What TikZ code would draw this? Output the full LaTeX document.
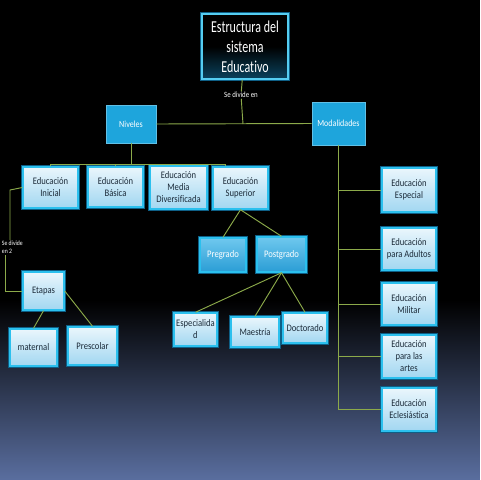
\documentclass[tikz,border=0pt]{standalone}
\usepackage{fontspec}
\setmainfont{Carlito}[FakeStretch=0.86, Ligatures=NoCommon]
\newfontfamily\titlefont{Carlito}[FakeStretch=0.72, Ligatures=NoCommon]
\usetikzlibrary{positioning}

\definecolor{linkgreen}{HTML}{8CAA4A}
\definecolor{boxtop}{HTML}{EAF6FC}
\definecolor{boxbot}{HTML}{A2D7F1}
\definecolor{boxrim}{HTML}{2BC0EE}
\definecolor{glowblue}{HTML}{0E5F86}
\definecolor{headcyan}{HTML}{1EA5DC}
\definecolor{midtop}{HTML}{6FC8EE}
\definecolor{midbot}{HTML}{2A9DD5}
\definecolor{bgblue}{HTML}{5A6E9F}
\definecolor{boxtext}{HTML}{1B2A38}

\tikzset{
    glow/.style={preaction={draw=glowblue, line width=2.8pt}},
    lightbox/.style={glow, draw=boxrim, line width=1.1pt, top color=boxtop, bottom color=boxbot,
        text=boxtext, align=center, inner sep=1pt, font=\fontsize{7.5}{9}\selectfont},
    midbox/.style={glow, draw=boxrim, line width=1.1pt, top color=midtop, bottom color=midbot,
        text=white, align=center, inner sep=1pt, font=\fontsize{7.5}{9}\selectfont},
    headbox/.style={draw=headcyan!70!white, line width=0.4pt, fill=headcyan,
        text=white, align=center, inner sep=1pt, font=\fontsize{7}{9}\selectfont},
    titlebox/.style={glow, draw=boxrim!80!white, line width=1.1pt, top color=black, bottom color=glowblue!70!black,
        middle color=black, text=white, align=center, inner sep=1pt, font=\titlefont\fontsize{12.5}{15}\selectfont},
    link/.style={draw=linkgreen, line width=0.7pt},
    note/.style={text=white, align=left, inner sep=0.5pt}
}

\begin{document}
\begin{tikzpicture}[x=0.75pt, y=-0.75pt]

    % background
    \fill[black] (0,0) rectangle (480,480);
    \shade[top color=black, bottom color=bgblue] (0,300) rectangle (480,480);

    % title and the two branches
    \node[titlebox, minimum width=64.5pt, minimum height=48.75pt] (title) at (245,46.5)
        {Estructura del\\sistema\\Educativo};
    \node[note, font=\fontsize{6}{7}\selectfont] (divide) at (241,95) {Se divide en};
    \node[headbox, minimum width=37.5pt, minimum height=28.5pt] (niv) at (131,124) {Niveles};
    \node[headbox, minimum width=39.75pt, minimum height=32.25pt] (mod) at (338.5,123.5) {Modalidades};
    \coordinate (hub) at (243,124);

    \draw[link] (title) -- (divide) -- (hub);
    \draw[link] (niv.east) -- (mod.west);

    % Niveles
    \node[lightbox, minimum width=41.25pt, minimum height=30.75pt] (ini) at (50.5,187.5) {Educación\\Inicial};
    \node[lightbox, minimum width=41.25pt, minimum height=30pt] (bas) at (115.5,187) {Educación\\Básica};
    \node[lightbox, minimum width=42.75pt, minimum height=32.25pt] (med) at (178.5,187.5) {Educación\\Media\\Diversificada};
    \node[lightbox, minimum width=41.25pt, minimum height=31.5pt] (sup) at (240.5,188) {Educación\\Superior};
    \coordinate (nivbar) at (131,164);

    \draw[link] (niv.south) -- (nivbar);
    \draw[link] (ini.north) |- (nivbar);
    \draw[link] (bas.north) -- (bas.north |- nivbar);
    \draw[link] (med.north) -- (med.north |- nivbar);
    \draw[link] (nivbar) -| ([xshift=-11.25pt]sup.north);

    % Educacion Inicial into Etapas
    \node[note, anchor=north west, font=\fontsize{5}{6}\selectfont] (div2) at (1,240) {Se divide\\en 2};
    \node[lightbox, minimum width=30.75pt, minimum height=28.5pt] (etp) at (43.5,291) {Etapas};
    \node[lightbox, minimum width=35.25pt, minimum height=27.75pt] (mat) at (33.5,347.5) {maternal};
    \node[lightbox, minimum width=36.75pt, minimum height=28.5pt] (pre) at (92.5,346) {Prescolar};
    \coordinate (inibend) at (10,190);

    \draw[link] (ini.west) -- (inibend) -- (inibend |- div2.north);
    \draw[link] (etp.west) -| ([xshift=3pt]div2.south west);
    \draw[link] (etp.south) -- (mat.north);
    \draw[link] (etp.east) -- (pre.north);

    % Educacion Superior
    \node[midbox, minimum width=34.5pt, minimum height=25.5pt] (preg) at (223,255) {Pregrado};
    \node[midbox, minimum width=36.75pt, minimum height=26.25pt] (post) at (281.5,254.5) {Postgrado};
    \node[lightbox, minimum width=32.25pt, minimum height=24.75pt] (esp) at (195.5,329.5) {Especialida\\d};
    \node[lightbox, minimum width=36pt, minimum height=22.5pt] (mae) at (255,332) {Maestría};
    \node[lightbox, minimum width=33pt, minimum height=22.5pt] (doc) at (305,328) {Doctorado};

    \draw[link] (sup.south) -- (preg.north);
    \draw[link] (sup.south) -- (post.north);
    \foreach \n in {esp,mae,doc} {
        \draw[link] (post.south) -- (\n.north);
    }

    % Modalidades
    \foreach \n/\y/\h/\txt in {mesp/190/33/{Educación\\Especial},
                               madu/249/31.5/{Educación\\para Adultos},
                               mmil/304/31.5/{Educación\\Militar},
                               mart/356.5/32.25/{Educación\\para las\\artes},
                               mecl/409.5/32.25/{Educación\\Eclesiástica}} {
        \node[lightbox, minimum width=40.5pt, minimum height=\h pt] (\n) at (409,\y) {\txt};
        \draw[link] (mod.south |- \n.west) -- (\n.west);
    }
    \draw[link] (mod.south) -- (mod.south |- mecl.west);

\end{tikzpicture}
\end{document}
